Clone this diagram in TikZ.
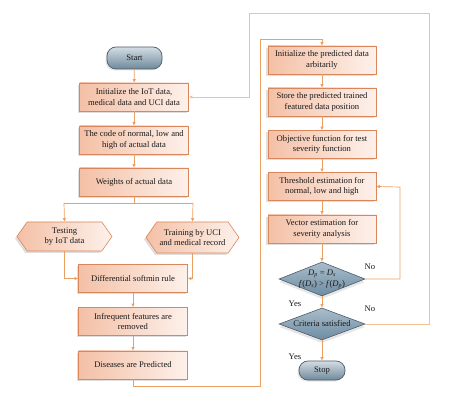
\documentclass[tikz,border=0pt]{standalone}
\usepackage{fontspec}
\setmainfont{Liberation Serif}
\usetikzlibrary{arrows.meta,shapes.geometric,shapes.symbols,shadows}
\definecolor{lineor}{HTML}{EBA063}
\definecolor{lineor2}{HTML}{F0C294}
\definecolor{boxbd}{HTML}{D9875A}
\definecolor{boxl}{HTML}{F4C0A6}
\definecolor{boxr}{HTML}{FDF1EB}
\definecolor{termt}{HTML}{D3DDE4}
\definecolor{termb}{HTML}{6F899B}
\definecolor{termbd}{HTML}{4D5C68}
\definecolor{diat}{HTML}{A9BDCB}
\definecolor{diab}{HTML}{6D8CA2}
\tikzset{
  every node/.style={font=\fontsize{8.6}{10.8}\selectfont, text=black!90},
  procbox/.style={draw=boxbd, line width=0.6pt, left color=boxl, right color=boxr,
     minimum width=109pt, minimum height=28pt, align=center, inner sep=1pt,
     drop shadow={shadow xshift=-2pt, shadow yshift=-2pt, opacity=0.25, fill=gray}},
  hexbox/.style={draw=boxbd, line width=0.6pt, left color=boxl, right color=boxr,
     shape=signal, signal to=east and west, signal pointer angle=110,
     minimum height=29pt, align=center, inner sep=1pt,
     drop shadow={shadow xshift=-2pt, shadow yshift=-2pt, opacity=0.25, fill=gray}},
  termbox/.style={draw=termbd, line width=0.7pt, top color=termt, bottom color=termb,
     rounded corners=9pt, minimum width=55pt, minimum height=22pt, inner sep=1pt,
     drop shadow={shadow xshift=-1.5pt, shadow yshift=-1.5pt, opacity=0.2, fill=gray}},
  diabox/.style={draw=termbd, line width=0.6pt, top color=diat, bottom color=diab,
     diamond, minimum width=86pt, minimum height=34pt, inner sep=0pt,
     drop shadow={shadow xshift=0pt, shadow yshift=-3pt, opacity=0.2, fill=gray}},
  diatext/.style={align=center, inner sep=0pt},
  conn/.style={draw=lineor, line width=0.7pt, -{Latex[length=3.5pt,width=3.5pt]}},
  connplain/.style={draw=lineor, line width=0.7pt},
  connouter/.style={draw=lineor2, line width=0.8pt, -{Latex[length=3.5pt,width=3.5pt]}},
  lbl/.style={font=\fontsize{8.6}{10}\selectfont}
}
\begin{document}
\begin{tikzpicture}[x=1pt,y=-1pt]
\useasboundingbox (0,0) rectangle (474,403);
% left column
\node[termbox] (start) at (134.5,58) {Start};
\node[procbox] (b1) at (134,97) {Initialize the IoT data,\\medical data and UCI data};
\node[procbox] (b2) at (134,140) {The code of normal, low and\\high of actual data};
\node[procbox] (b3) at (134,182) {Weights of actual data};
\node[hexbox, minimum width=95pt] (test) at (64.5,236.5) {Testing\\by IoT data};
\node[hexbox, minimum width=93pt, minimum height=31pt] (train) at (192.5,237.5) {Training by UCI\\and medical record};
\node[procbox] (diff) at (133,278.5) {Differential softmin rule};
\node[procbox] (infr) at (133,321.5) {Infrequent features are\\removed};
\node[procbox] (dis) at (133,365) {Diseases are Predicted};
% right column
\node[procbox, minimum width=108pt] (r1) at (322,60) {Initialize the predicted data\\arbitarily};
\node[procbox, minimum width=108pt] (r2) at (322,102) {Store the predicted trained\\featured data position};
\node[procbox, minimum width=108pt] (r3) at (322,144.5) {Objective function for test\\severity function};
\node[procbox, minimum width=108pt] (r4) at (322,186.5) {Threshold estimation for\\normal, low and high};
\node[procbox, minimum width=108pt] (r5) at (322,229) {Vector estimation for\\severity analysis};
\node[diabox] (d1) at (322,279) {};
\node[diatext] (d1t) at (322,279.5) {\textit{D}\textsubscript{\textit{p}} = \textit{D}\textsubscript{\textit{s}}\\\textit{f}(\textit{D}\textsubscript{\textit{s}}) > \textit{f}(\textit{D}\textsubscript{\textit{p}})};
\node[diabox, minimum height=32pt] (d2) at (322,324) {};
\node[diatext] (d2t) at (322,324) {Criteria satisfied};
\node[termbox, minimum width=46pt, minimum height=19pt] (stop) at (322,370.5) {Stop};
% coordinates
\coordinate (br) at (134,203);
\coordinate (bl) at (64,203);
\coordinate (brr) at (193,203);
\coordinate (p1) at (133,386);
\coordinate (p2) at (260,386);
\coordinate (p3) at (260,39);
\coordinate (p4) at (322,39);
\coordinate (q1) at (400,279);
\coordinate (q2) at (400,187);
\coordinate (s1) at (429,324);
\coordinate (s2) at (429,13);
\coordinate (s3) at (249,13);
\coordinate (s4) at (249,97);
% connectors
\draw[conn] (start) -- (b1);
\draw[conn] (b1) -- (b2);
\draw[conn] (b2) -- (b3);
\draw[connplain] (b3.south) -- (br);
\draw[connplain] (bl) -- (brr);
\draw[conn] (bl) -- (test.north);
\draw[conn] (brr) -- (train.north);
\draw[conn] (test.south) |- (diff.west);
\draw[conn] (train.south) |- (diff.east);
\draw[conn] (diff) -- (infr);
\draw[conn] (infr) -- (dis);
\draw[connplain] (dis.south) -- (p1) -- (p2) -- (p3) -- (p4);
\draw[conn] (p4) -- (r1.north);
\draw[conn] (r1) -- (r2);
\draw[conn] (r2) -- (r3);
\draw[conn] (r3) -- (r4);
\draw[conn] (r4) -- (r5);
\draw[conn] (r5) -- (d1);
\draw[conn] (d1) -- (d2);
\draw[conn] (d2) -- (stop);
\draw[conn] (d1.east) -- (q1) -- (q2) -- (r4.east);
\draw[connouter] (d2.east) -- (s1) -- (s2) -- (s3) -- (s4) -- (b1.east);
% labels
\node[lbl] (no1) at (370,267) {No};
\node[lbl] (no2) at (370,309) {No};
\node[lbl] (yes1) at (295,304) {Yes};
\node[lbl] (yes2) at (295,357) {Yes};
\end{tikzpicture}
\end{document}
